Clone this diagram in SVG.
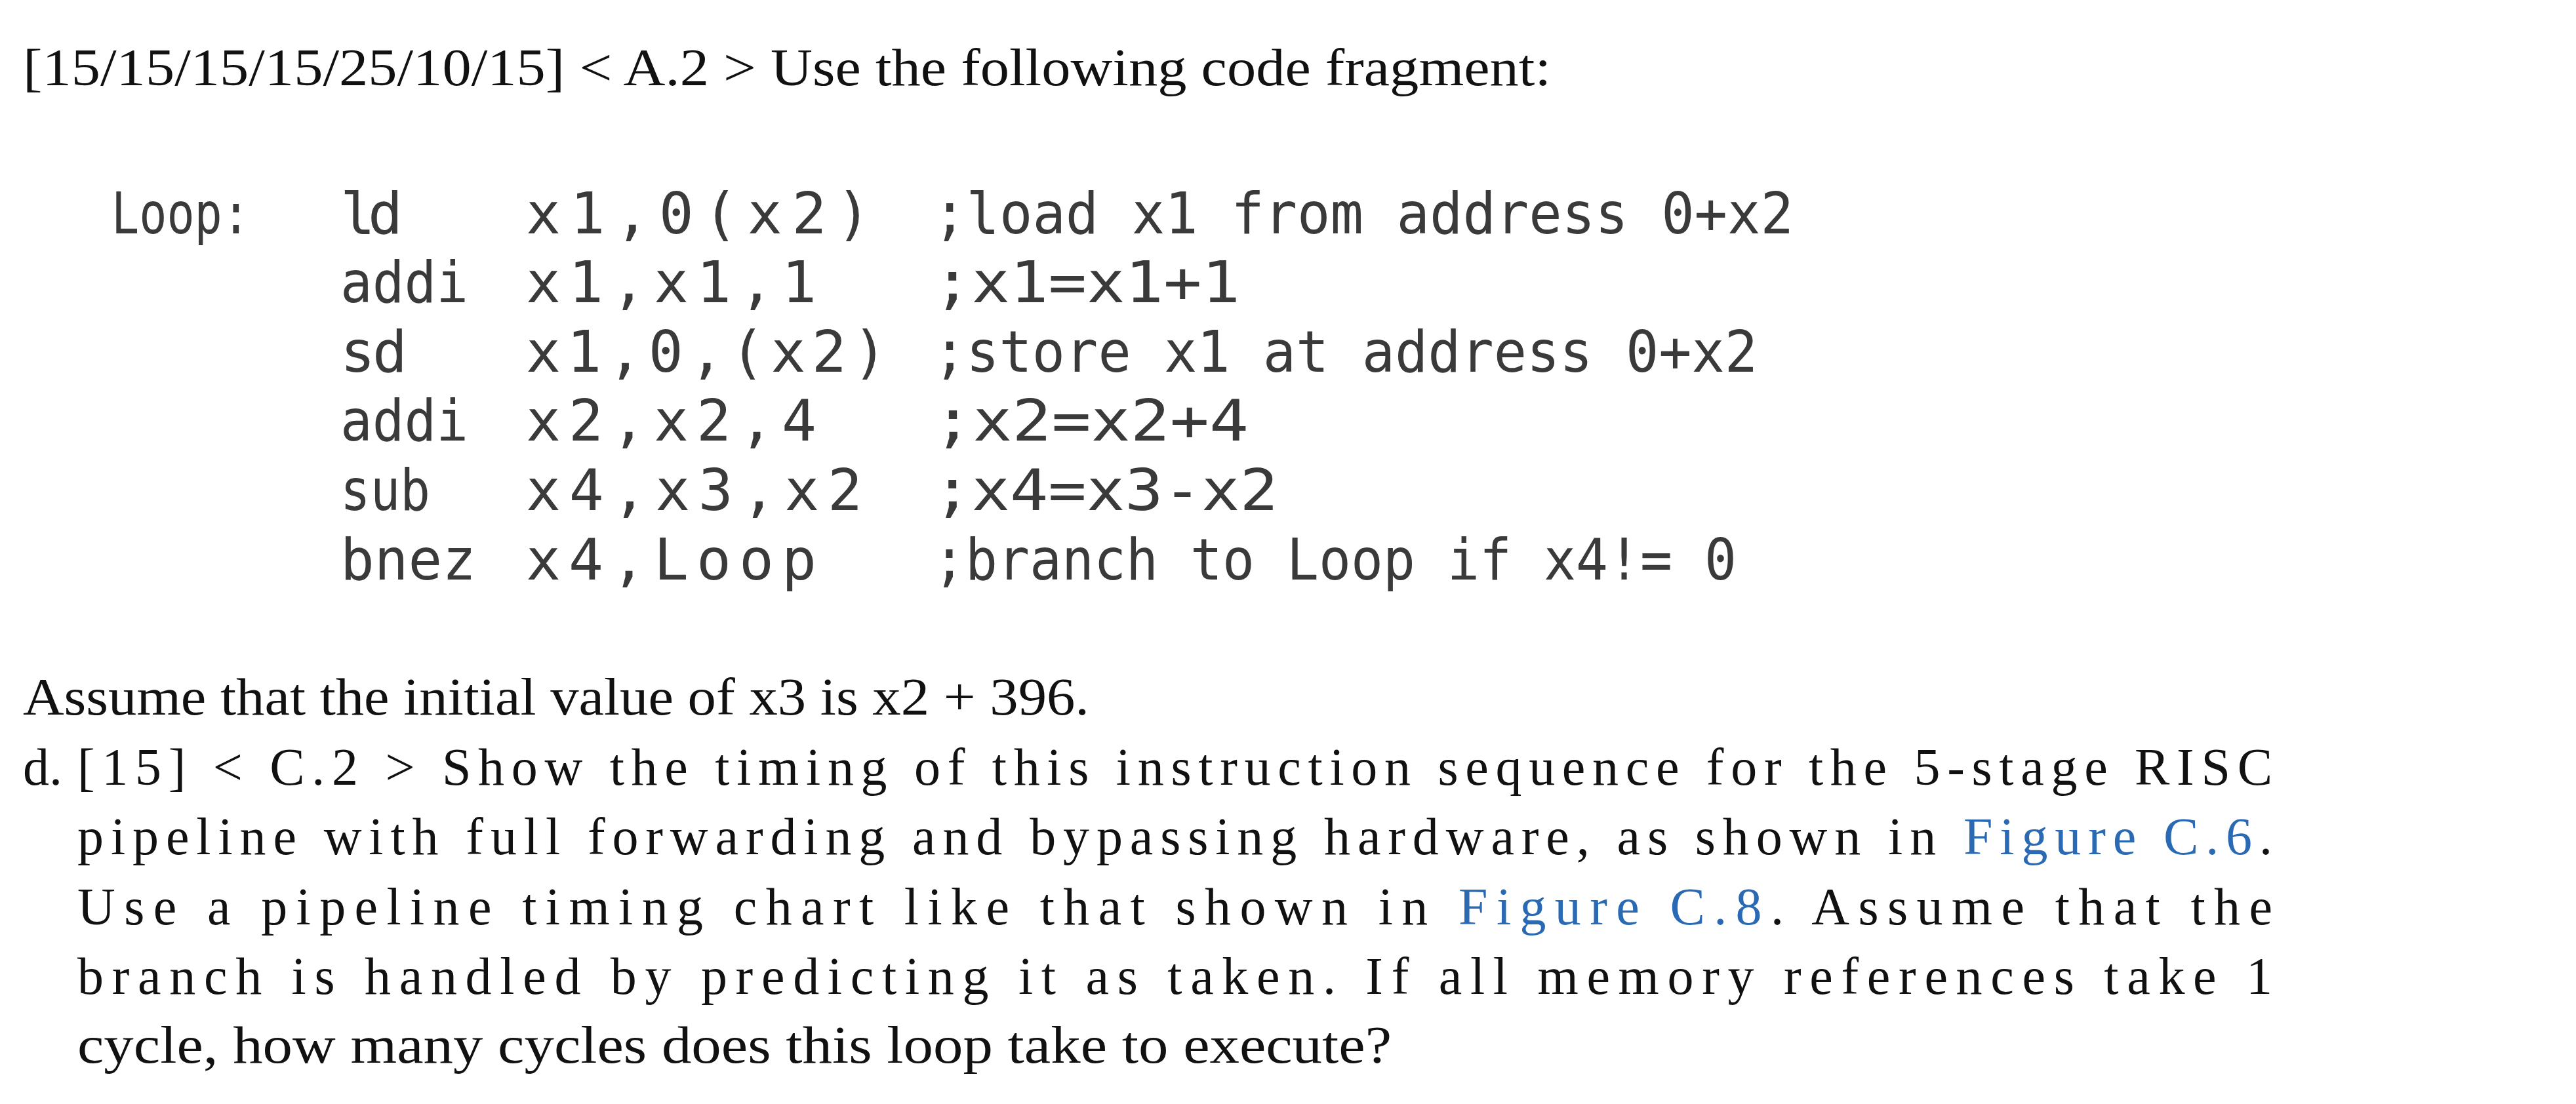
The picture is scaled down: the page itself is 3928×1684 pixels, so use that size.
<svg xmlns="http://www.w3.org/2000/svg" width="3928" height="1684" viewBox="0 0 3928 1684">
<style>
.p{font-family:"Liberation Serif","Times New Roman",serif;font-size:80px;fill:#111}
.c{font-family:"DejaVu Sans Mono","Liberation Mono",monospace;font-size:88px;fill:#3a3a3a}
.b{fill:#2a6ab4}
</style>
<rect width="3928" height="1684" fill="#fff"/>
<text class="p" x="35" y="130" textLength="2330" lengthAdjust="spacingAndGlyphs">[15/15/15/15/25/10/15] &lt; A.2 &gt; Use the following code fragment:</text>
<g id="code">
<text class="c" x="170" y="356" textLength="211" lengthAdjust="spacingAndGlyphs">Loop:</text>
<text class="c" x="519" y="356" textLength="95">ld</text>
<text class="c" x="802" y="356" textLength="526">x1,0(x2)</text>
<text class="c" x="1423" y="356" textLength="1312" lengthAdjust="spacingAndGlyphs">;load x1 from address 0+x2</text>
<text class="c" x="519" y="461" textLength="195" lengthAdjust="spacingAndGlyphs">addi</text>
<text class="c" x="802" y="461" textLength="443">x1,x1,1</text>
<text class="c" x="1423" y="461" textLength="468" lengthAdjust="spacingAndGlyphs">;x1=x1+1</text>
<text class="c" x="519" y="567" textLength="102">sd</text>
<text class="c" x="802" y="567" textLength="551">x1,0,(x2)</text>
<text class="c" x="1423" y="567" textLength="1257" lengthAdjust="spacingAndGlyphs">;store x1 at address 0+x2</text>
<text class="c" x="519" y="672" textLength="195" lengthAdjust="spacingAndGlyphs">addi</text>
<text class="c" x="802" y="672" textLength="443">x2,x2,4</text>
<text class="c" x="1423" y="672" textLength="481" lengthAdjust="spacingAndGlyphs">;x2=x2+4</text>
<text class="c" x="519" y="778" textLength="137" lengthAdjust="spacingAndGlyphs">sub</text>
<text class="c" x="802" y="778" textLength="513">x4,x3,x2</text>
<text class="c" x="1423" y="778" textLength="526" lengthAdjust="spacingAndGlyphs">;x4=x3-x2</text>
<text class="c" x="519" y="884" textLength="207" lengthAdjust="spacingAndGlyphs">bnez</text>
<text class="c" x="802" y="884" textLength="443">x4,Loop</text>
<text class="c" x="1423" y="884" textLength="1225" lengthAdjust="spacingAndGlyphs">;branch to Loop if x4!= 0</text>
</g>
<text class="p" x="35" y="1090" textLength="1626" lengthAdjust="spacingAndGlyphs">Assume that the initial value of x3 is x2 + 396.</text>
<text class="p" x="35" y="1197">d.</text>
<text class="p" x="118" y="1197" textLength="3347">[15] &lt; C.2 &gt; Show the timing of this instruction sequence for the 5-stage RISC</text>
<text class="p" x="118" y="1303" textLength="3347">pipeline with full forwarding and bypassing hardware, as shown in <tspan class="b">Figure C.6</tspan>.</text>
<text class="p" x="118" y="1410" textLength="3347">Use a pipeline timing chart like that shown in <tspan class="b">Figure C.8</tspan>. Assume that the</text>
<text class="p" x="118" y="1516" textLength="3347">branch is handled by predicting it as taken. If all memory references take 1</text>
<text class="p" x="118" y="1621" textLength="2004" lengthAdjust="spacingAndGlyphs">cycle, how many cycles does this loop take to execute?</text>
</svg>
